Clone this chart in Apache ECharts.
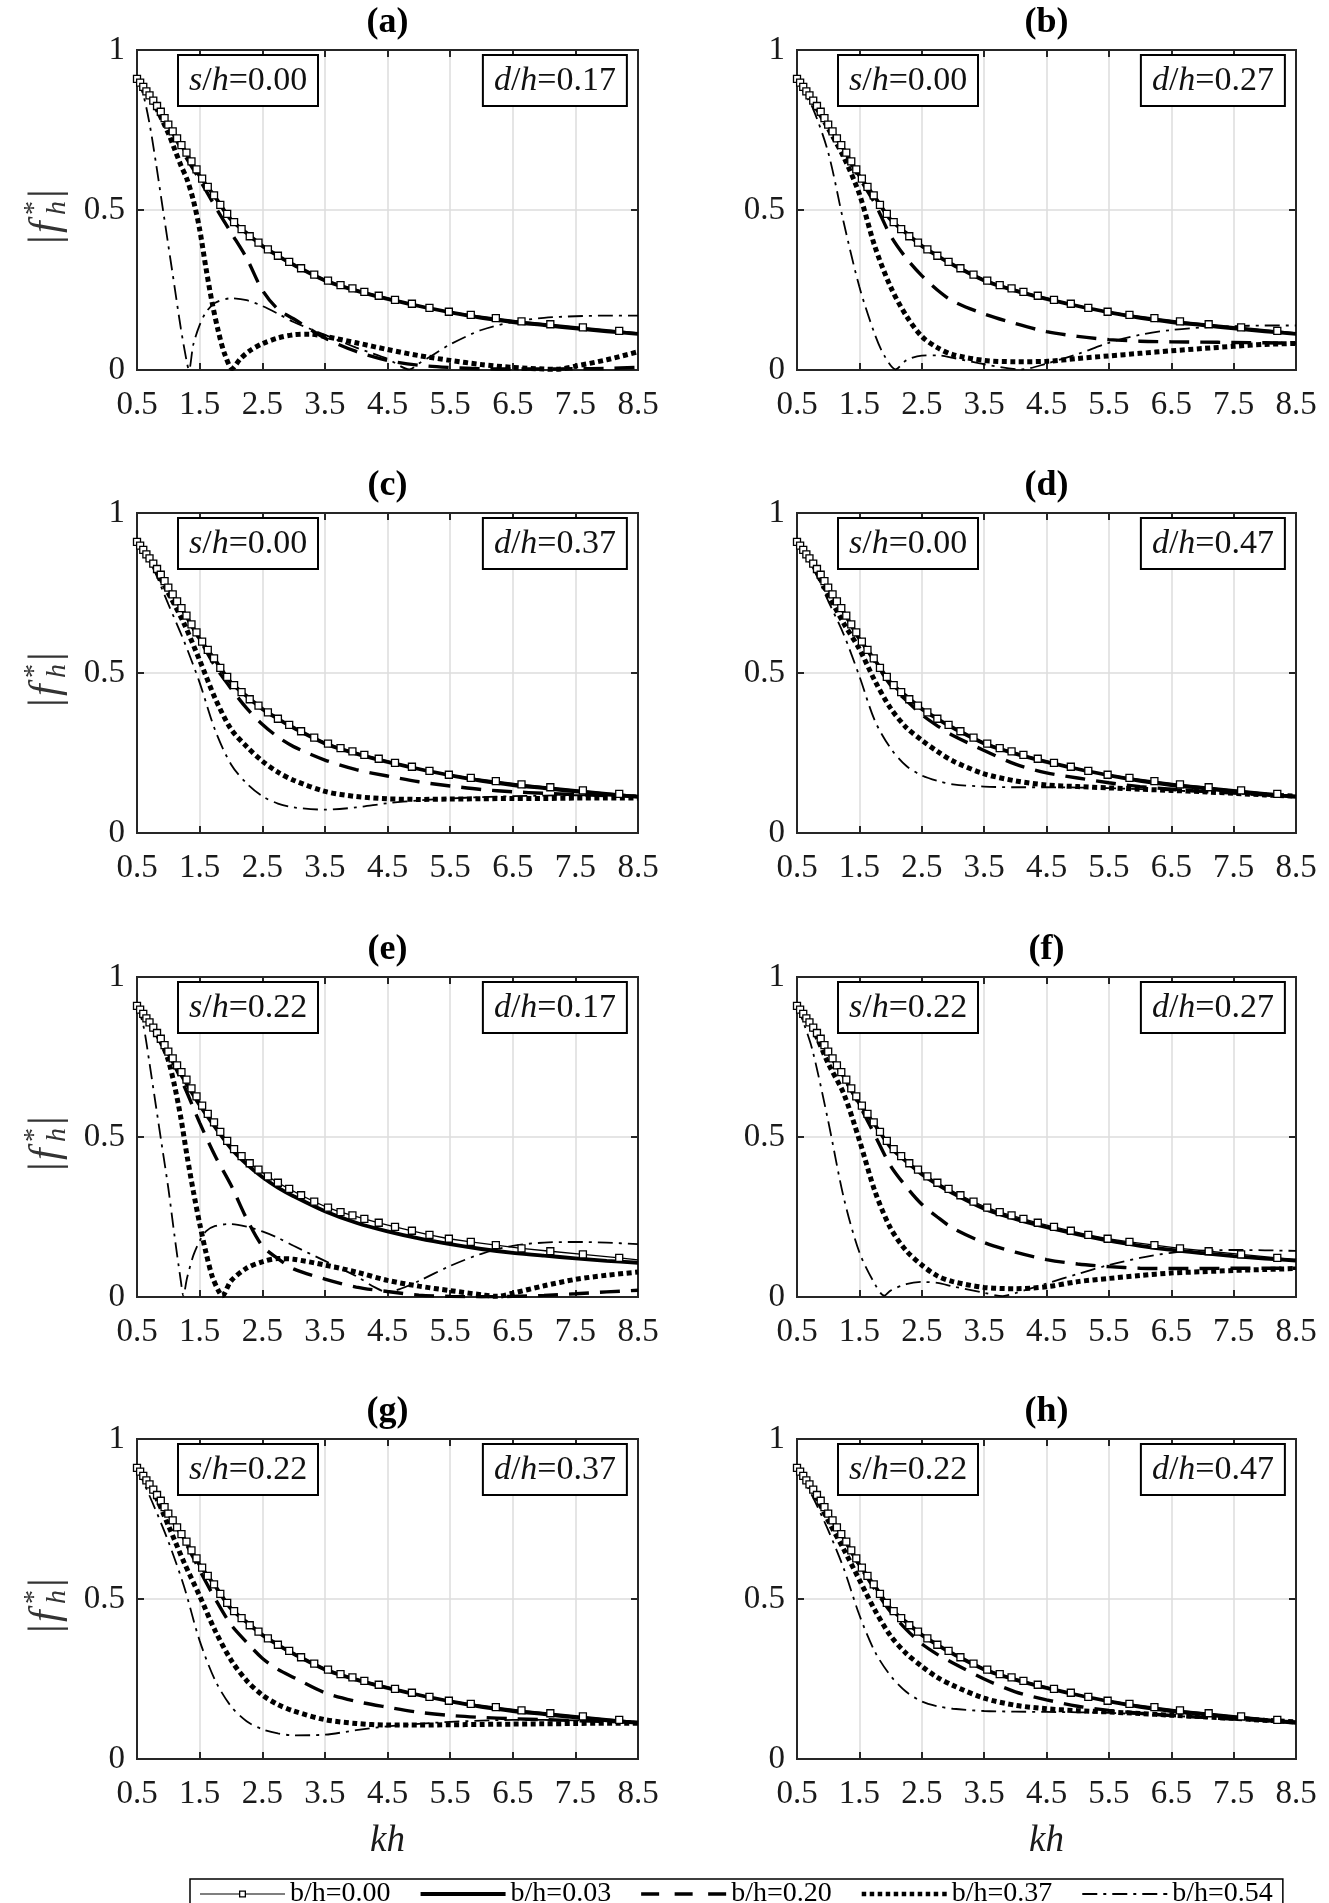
<!DOCTYPE html>
<html>
<head>
<meta charset="utf-8">
<script src="https://cdn.jsdelivr.net/npm/echarts@6/dist/echarts.min.js"></script>
<style>
  html, body { margin: 0; padding: 0; background: #fff; }
  #chart { width: 1329px; height: 1903px; }
</style>
</head>
<body>
<div id="chart"></div>
<script>
// common kh sampling used by the smoother curves
const kh = [0.5, 0.75, 1, 1.25, 1.5, 1.75, 2, 2.25, 2.5, 2.75, 3, 3.5, 4, 4.5, 5, 5.5, 6, 6.5, 7, 7.5, 8, 8.5];
const xTicks = [0.5, 1.5, 2.5, 3.5, 4.5, 5.5, 6.5, 7.5, 8.5];
const panelTags = ['(a)', '(b)', '(c)', '(d)', '(e)', '(f)', '(g)', '(h)'];
const sLabels = ['0.00', '0.00', '0.00', '0.00', '0.22', '0.22', '0.22', '0.22'];
const dLabels = ['0.17', '0.27', '0.37', '0.47', '0.17', '0.27', '0.37', '0.47'];
const seriesNames = ['b/h=0.00', 'b/h=0.03', 'b/h=0.20', 'b/h=0.37', 'b/h=0.54'];

// b/h=0.00 (no barrier) - same in every panel, one point per marker
const b000 = [[0.50,0.910],[0.55,0.898],[0.60,0.885],[0.65,0.871],[0.70,0.858],[0.76,0.842],[0.82,0.825],[0.88,0.807],
  [0.94,0.787],[1.00,0.767],[1.07,0.746],[1.14,0.724],[1.21,0.703],[1.29,0.679],[1.37,0.652],[1.45,0.627],[1.54,0.598],
  [1.63,0.572],[1.73,0.546],[1.83,0.516],[1.94,0.488],[2.05,0.462],[2.17,0.440],[2.30,0.418],[2.44,0.398],[2.59,0.377],
  [2.75,0.357],[2.93,0.338],[3.12,0.318],[3.33,0.298],[3.55,0.279],[3.75,0.265],[3.94,0.255],[4.13,0.244],[4.36,0.232],
  [4.62,0.219],[4.89,0.207],[5.17,0.194],[5.48,0.182],[5.83,0.172],[6.23,0.162],[6.64,0.152],[7.10,0.143],[7.62,0.133],
  [8.20,0.122],[8.50,0.116]];

// b/h=0.03
const b003_s0 = [0.91,0.845,0.767,0.69,0.607,0.54,0.47,0.428,0.388,0.357,0.329,0.28,0.248,0.222,0.2,0.18,0.163,0.15,0.14,0.13,0.121,0.113];
const b003_e = [0.91,0.84,0.76,0.68,0.6,0.53,0.465,0.415,0.375,0.342,0.315,0.268,0.232,0.205,0.183,0.165,0.15,0.138,0.129,0.121,0.113,0.107];
const b003_f = [0.91,0.845,0.765,0.688,0.605,0.538,0.468,0.424,0.384,0.352,0.324,0.276,0.244,0.218,0.196,0.176,0.16,0.147,0.137,0.128,0.12,0.114];

// b/h=0.20
const b020_a = [0.91,0.845,0.765,0.675,0.595,0.51,0.43,0.35,0.25,0.19,0.16,0.1,0.058,0.03,0.015,0.008,0.004,0.003,0.003,0.004,0.005,0.008];
const b020_b = [0.91,0.845,0.765,0.685,0.6,0.52,0.42,0.35,0.295,0.25,0.215,0.175,0.145,0.12,0.105,0.095,0.09,0.088,0.087,0.086,0.085,0.084];
const b020_c = [0.91,0.845,0.767,0.69,0.605,0.52,0.452,0.39,0.34,0.3,0.27,0.228,0.198,0.178,0.16,0.147,0.136,0.129,0.124,0.12,0.117,0.115];
const b020_d = [0.91,0.845,0.767,0.69,0.607,0.535,0.462,0.415,0.37,0.335,0.305,0.258,0.215,0.188,0.172,0.157,0.145,0.137,0.13,0.125,0.119,0.115];
const b020_e = [0.91,0.84,0.76,0.66,0.545,0.44,0.35,0.245,0.16,0.12,0.088,0.056,0.031,0.017,0.006,0.002,0.001,0.002,0.005,0.01,0.016,0.021];
const b020_f = [0.91,0.845,0.765,0.685,0.6,0.505,0.41,0.345,0.29,0.25,0.215,0.17,0.14,0.117,0.103,0.095,0.09,0.089,0.089,0.09,0.09,0.09];
const b020_g = [0.91,0.845,0.765,0.685,0.59,0.5,0.42,0.365,0.315,0.28,0.255,0.207,0.18,0.162,0.146,0.136,0.13,0.126,0.123,0.12,0.117,0.115];
const b020_h = [0.91,0.845,0.765,0.688,0.605,0.53,0.46,0.405,0.36,0.327,0.3,0.25,0.21,0.185,0.165,0.152,0.143,0.136,0.13,0.125,0.12,0.116];

// b/h=0.37
const b037_a = [[0.5,0.91],[0.75,0.84],[1.0,0.74],[1.1,0.69],[1.2,0.64],[1.3,0.595],[1.4,0.53],[1.5,0.44],[1.6,0.32],[1.7,0.21],
  [1.8,0.12],[1.9,0.05],[2.02,0.005],[2.15,0.035],[2.3,0.06],[2.5,0.082],[2.75,0.1],[3.0,0.11],[3.25,0.112],[3.5,0.105],
  [4.0,0.085],[4.5,0.064],[5.0,0.045],[5.5,0.03],[6.0,0.017],[6.5,0.008],[7.0,0.003],[7.2,0.002],[7.5,0.012],[8.0,0.032],[8.5,0.057]];
const b037_b = [0.91,0.84,0.755,0.665,0.55,0.385,0.26,0.17,0.105,0.07,0.048,0.03,0.026,0.027,0.036,0.044,0.052,0.06,0.067,0.074,0.08,0.083];
const b037_c = [0.91,0.84,0.75,0.655,0.54,0.42,0.325,0.27,0.225,0.19,0.165,0.13,0.114,0.107,0.105,0.106,0.107,0.108,0.108,0.109,0.109,0.109];
const b037_d = [0.91,0.84,0.745,0.655,0.575,0.475,0.39,0.33,0.29,0.255,0.225,0.185,0.163,0.15,0.145,0.141,0.137,0.133,0.129,0.124,0.119,0.115];
const b037_e = [[0.5,0.91],[0.75,0.845],[0.9,0.79],[1.0,0.74],[1.1,0.66],[1.2,0.56],[1.3,0.44],[1.4,0.33],[1.5,0.23],[1.6,0.14],
  [1.7,0.065],[1.8,0.02],[1.86,0.004],[2.0,0.05],[2.25,0.09],[2.5,0.11],[2.75,0.12],[3.0,0.118],[3.5,0.1],[4.0,0.078],[4.5,0.052],
  [5.0,0.034],[5.5,0.02],[6.0,0.007],[6.25,0.002],[6.5,0.012],[7.0,0.035],[7.5,0.055],[8.0,0.068],[8.5,0.078]];
const b037_f = [0.91,0.84,0.73,0.635,0.49,0.33,0.215,0.145,0.1,0.066,0.048,0.03,0.026,0.032,0.048,0.058,0.067,0.075,0.079,0.083,0.086,0.089];
const b037_g = [0.91,0.84,0.73,0.615,0.51,0.4,0.31,0.245,0.2,0.17,0.15,0.123,0.111,0.106,0.106,0.107,0.108,0.109,0.11,0.111,0.112,0.112];
const b037_h = [0.91,0.84,0.745,0.655,0.56,0.465,0.385,0.33,0.29,0.255,0.23,0.19,0.168,0.157,0.151,0.147,0.142,0.137,0.132,0.127,0.121,0.116];

// b/h=0.54
const b054_a = [[0.5,0.91],[0.6,0.86],[0.7,0.77],[0.8,0.65],[0.9,0.52],[1.0,0.39],[1.1,0.26],[1.2,0.13],[1.3,0.02],[1.33,0.0],
  [1.4,0.08],[1.5,0.14],[1.6,0.18],[1.75,0.21],[2.0,0.224],[2.25,0.218],[2.5,0.2],[2.75,0.176],[3.0,0.15],[3.5,0.11],[4.0,0.07],
  [4.5,0.035],[4.85,0.002],[5.0,0.02],[5.25,0.05],[5.5,0.08],[6.0,0.125],[6.5,0.15],[7.0,0.163],[7.5,0.168],[8.0,0.17],[8.5,0.17]];
const b054_b = [[0.5,0.91],[0.6,0.87],[0.75,0.82],[1.0,0.68],[1.25,0.46],[1.5,0.26],[1.75,0.11],[1.9,0.045],[2.08,0.002],[2.25,0.03],
  [2.5,0.045],[2.75,0.046],[3.0,0.038],[3.5,0.018],[4.1,0.002],[4.5,0.02],[5.0,0.05],[5.5,0.085],[6.0,0.11],[6.5,0.125],[7.0,0.133],
  [7.5,0.137],[8.0,0.139],[8.5,0.139]];
const b054_c = [0.91,0.83,0.715,0.6,0.47,0.32,0.215,0.155,0.115,0.092,0.08,0.073,0.08,0.093,0.102,0.108,0.112,0.115,0.117,0.118,0.118,0.117];
const b054_d = [0.91,0.83,0.725,0.62,0.49,0.35,0.265,0.21,0.18,0.163,0.152,0.145,0.143,0.143,0.142,0.14,0.137,0.133,0.129,0.124,0.119,0.115];
const b054_e = [[0.5,0.91],[0.6,0.85],[0.7,0.73],[0.8,0.6],[0.9,0.47],[1.0,0.34],[1.1,0.19],[1.2,0.05],[1.24,0.005],[1.3,0.06],
  [1.4,0.13],[1.5,0.175],[1.6,0.205],[1.75,0.222],[2.0,0.228],[2.25,0.22],[2.5,0.205],[2.75,0.185],[3.0,0.16],[3.5,0.113],[4.0,0.065],
  [4.3,0.03],[4.5,0.015],[4.7,0.025],[5.0,0.05],[5.5,0.097],[6.0,0.135],[6.5,0.16],[7.0,0.17],[7.5,0.172],[8.0,0.17],[8.5,0.165]];
const b054_f = [[0.5,0.91],[0.6,0.86],[0.75,0.77],[1.0,0.55],[1.25,0.31],[1.5,0.14],[1.75,0.04],[1.9,0.004],[2.0,0.02],[2.25,0.04],
  [2.5,0.047],[2.75,0.044],[3.0,0.033],[3.5,0.013],[3.8,0.003],[4.0,0.012],[4.5,0.042],[5.0,0.072],[5.5,0.1],[6.0,0.122],[6.5,0.138],
  [7.0,0.145],[7.5,0.147],[8.0,0.146],[8.5,0.144]];
const b054_g = [0.91,0.8,0.68,0.54,0.37,0.245,0.165,0.118,0.093,0.08,0.074,0.076,0.09,0.102,0.11,0.116,0.12,0.122,0.122,0.121,0.119,0.117];
const b054_h = [0.91,0.82,0.715,0.595,0.45,0.335,0.26,0.21,0.18,0.165,0.157,0.15,0.148,0.147,0.146,0.144,0.14,0.135,0.13,0.125,0.12,0.116];

const panels = [
  [b003_s0, b020_a, b037_a, b054_a],
  [b003_s0, b020_b, b037_b, b054_b],
  [b003_s0, b020_c, b037_c, b054_c],
  [b003_s0, b020_d, b037_d, b054_d],
  [b003_e,  b020_e, b037_e, b054_e],
  [b003_f,  b020_f, b037_f, b054_f],
  [b003_s0, b020_g, b037_g, b054_g],
  [b003_s0, b020_h, b037_h, b054_h],
];

const FONT = 'Liberation Serif';
const INK = '#262626';
const colLeft = [137, 797];
const colWidth = [501, 499];
const rowTop = [50, 513, 977, 1439];
const plotH = 320;

function pairs(arr) {
  return Array.isArray(arr[0]) ? arr : arr.map((v, i) => [kh[i], v]);
}

// line styles: thick solid, thick dashed, thick dotted, thin dash-dot
const styles = [
  { width: 3.8, type: 'solid' },
  { width: 3.4, type: [20, 11] },
  { width: 5, type: [5, 3.5] },
  { width: 1.8, type: [15, 6, 3, 6] },
];

// legend glyphs drawn as paths (the default icons cap line widths)
const legendIcons = [
  'path://M0,5.4h39v1.2h-39z M46,5.4h39v1.2h-39z M39,2.5h7v7h-7z M40.3,3.8v4.4h4.4v-4.4z',
  'path://M0,0h85v3.8h-85z',
  'path://M0,0h18v3.4h-18z M33.5,0h18v3.4h-18z M67,0h18v3.4h-18z',
  'path://M0,0h4.5v4.5h-4.5z M8,0h4.5v4.5h-4.5z M16,0h4.5v4.5h-4.5z M24,0h4.5v4.5h-4.5z M32,0h4.5v4.5h-4.5z M40,0h4.5v4.5h-4.5z ' +
    'M48,0h4.5v4.5h-4.5z M56,0h4.5v4.5h-4.5z M64,0h4.5v4.5h-4.5z M72,0h4.5v4.5h-4.5z M80.5,0h4.5v4.5h-4.5z',
  'path://M0,0h15v1.8h-15z M21,0h3v1.8h-3z M30,0h15v1.8h-15z M51,0h3v1.8h-3z M60,0h15v1.8h-15z M81,0h4v1.8h-4z',
];

const grids = [], xAxes = [], yAxes = [], series = [], titles = [], graphics = [];

for (let p = 0; p < 8; p++) {
  const col = p % 2, row = Math.floor(p / 2);
  const L = colLeft[col], W = colWidth[col], T = rowTop[row];
  grids.push({ left: L, top: T, width: W, height: plotH, show: true, borderColor: INK, borderWidth: 2, outerBoundsMode: 'none' });

  xAxes.push({
    gridIndex: p, type: 'value', min: 0.5, max: 8.5, position: 'bottom',
    axisLine: { onZero: false, lineStyle: { color: INK, width: 2 } },
    axisTick: { inside: true, length: 7, customValues: xTicks, lineStyle: { color: INK, width: 2 } },
    axisLabel: { customValues: xTicks, fontFamily: FONT, fontSize: 33, color: '#1a1a1a', margin: 19,
      formatter: v => v.toFixed(1) },
    splitLine: { show: true, lineStyle: { color: '#dcdcdc', width: 1.5 } },
    name: row === 3 ? 'kh' : '', nameLocation: 'middle', nameGap: 64,
    nameTextStyle: { fontFamily: FONT, fontStyle: 'italic', fontSize: 37, color: '#1a1a1a' },
  });
  xAxes.push({
    gridIndex: p, type: 'value', min: 0.5, max: 8.5, position: 'top',
    axisLine: { onZero: false, lineStyle: { color: INK, width: 2 } },
    axisTick: { inside: true, length: 7, customValues: xTicks, lineStyle: { color: INK, width: 2 } },
    axisLabel: { show: false }, splitLine: { show: false },
  });
  yAxes.push({
    gridIndex: p, type: 'value', min: 0, max: 1, interval: 0.5, position: 'left',
    axisLine: { onZero: false, lineStyle: { color: INK, width: 2 } },
    axisTick: { inside: true, length: 7, lineStyle: { color: INK, width: 2 } },
    axisLabel: { fontFamily: FONT, fontSize: 33, color: '#1a1a1a', margin: 12 },
    splitLine: { show: true, lineStyle: { color: '#dcdcdc', width: 1.5 } },
  });
  yAxes.push({
    gridIndex: p, type: 'value', min: 0, max: 1, interval: 0.5, position: 'right',
    axisLine: { onZero: false, lineStyle: { color: INK, width: 2 } },
    axisTick: { inside: true, length: 7, lineStyle: { color: INK, width: 2 } },
    axisLabel: { show: false }, splitLine: { show: false },
  });

  const curves = panels[p];
  for (let k = 3; k >= 0; k--) {
    series.push({
      name: seriesNames[k + 1], type: 'line', xAxisIndex: 2 * p, yAxisIndex: 2 * p,
      data: pairs(curves[k]), symbol: 'none', smooth: 0.3, clip: true,
      lineStyle: { color: '#000', width: styles[k].width, type: styles[k].type, cap: 'butt' },
      itemStyle: { color: '#000' }, z: 2 + k,
    });
  }
  series.push({
    name: seriesNames[0], type: 'line', xAxisIndex: 2 * p, yAxisIndex: 2 * p,
    data: b000.map((d, i) => i === b000.length - 1 ? { value: d, symbol: 'none' } : d),
    symbol: 'rect', symbolSize: 7, clip: true,
    lineStyle: { color: '#000', width: 1.3 },
    itemStyle: { color: '#fff', borderColor: '#000', borderWidth: 1.3 }, z: 8,
  });

  // s/h and d/h boxes
  const boxStyle = {
    fontFamily: FONT, fontSize: 34, fontWeight: 'normal', color: '#111',
    rich: {
      i: { fontFamily: FONT, fontSize: 34, fontStyle: 'italic', color: '#111' },
      n: { fontFamily: FONT, fontSize: 34, color: '#111' },
    },
  };
  titles.push({ text: '{i|s}{n|/}{i|h}{n|=' + sLabels[p] + '}', left: L + 41, top: T + 5,
    padding: [9, 11, 8, 11], borderColor: '#000', borderWidth: 2, backgroundColor: '#fff', textStyle: boxStyle });
  titles.push({ text: '{i|d}{n|/}{i|h}{n|=' + dLabels[p] + '}', right: 1329 - (L + W) + 11, top: T + 5,
    padding: [9, 11, 8, 11], borderColor: '#000', borderWidth: 2, backgroundColor: '#fff', textStyle: boxStyle });

  graphics.push({
    type: 'text', x: L + W / 2, y: T - 27,
    style: { text: panelTags[p], fontFamily: FONT, fontWeight: 'bold', fontSize: 36, fill: '#000', align: 'center', verticalAlign: 'middle' },
  });

  if (col === 0) {
    graphics.push({
      type: 'group', x: 47, y: T + 160, rotation: Math.PI / 2,
      children: [
        { type: 'text', x: -34, y: 0, style: { text: '|', fontFamily: FONT, fontSize: 44, fill: '#333', align: 'left', verticalAlign: 'middle' } },
        { type: 'text', x: -23, y: 0, style: { text: 'f', fontFamily: FONT, fontStyle: 'italic', fontSize: 42, fill: '#333', align: 'left', verticalAlign: 'middle' } },
        { type: 'text', x: -5, y: -12, style: { text: '*', fontFamily: FONT, fontSize: 28, fill: '#333', align: 'left', verticalAlign: 'middle' } },
        { type: 'text', x: -5, y: 11, style: { text: 'h', fontFamily: FONT, fontStyle: 'italic', fontSize: 28, fill: '#333', align: 'left', verticalAlign: 'middle' } },
        { type: 'text', x: 12, y: 0, style: { text: '|', fontFamily: FONT, fontSize: 44, fill: '#333', align: 'left', verticalAlign: 'middle' } },
      ],
    });
  }
}

const chart = echarts.init(document.getElementById('chart'), null, { renderer: 'canvas' });
chart.setOption({
  backgroundColor: '#fff',
  animation: false,
  title: titles,
  grid: grids,
  xAxis: xAxes,
  yAxis: yAxes,
  series: series,
  graphic: graphics,
  legend: {
    data: seriesNames.map((n, i) => ({
      name: n, icon: legendIcons[i],
      itemStyle: { color: '#000', borderWidth: 0, borderColor: '#000', opacity: 1 },
    })),
    left: 190, top: 1879, orient: 'horizontal', selectedMode: false,
    itemWidth: 85, itemHeight: 12, itemGap: 30, padding: [1, 10, 1, 10],
    borderColor: '#000', borderWidth: 1.5, backgroundColor: '#fff',
    textStyle: { fontFamily: FONT, fontSize: 28, color: '#000' },
  },
});
</script>
</body>
</html>
